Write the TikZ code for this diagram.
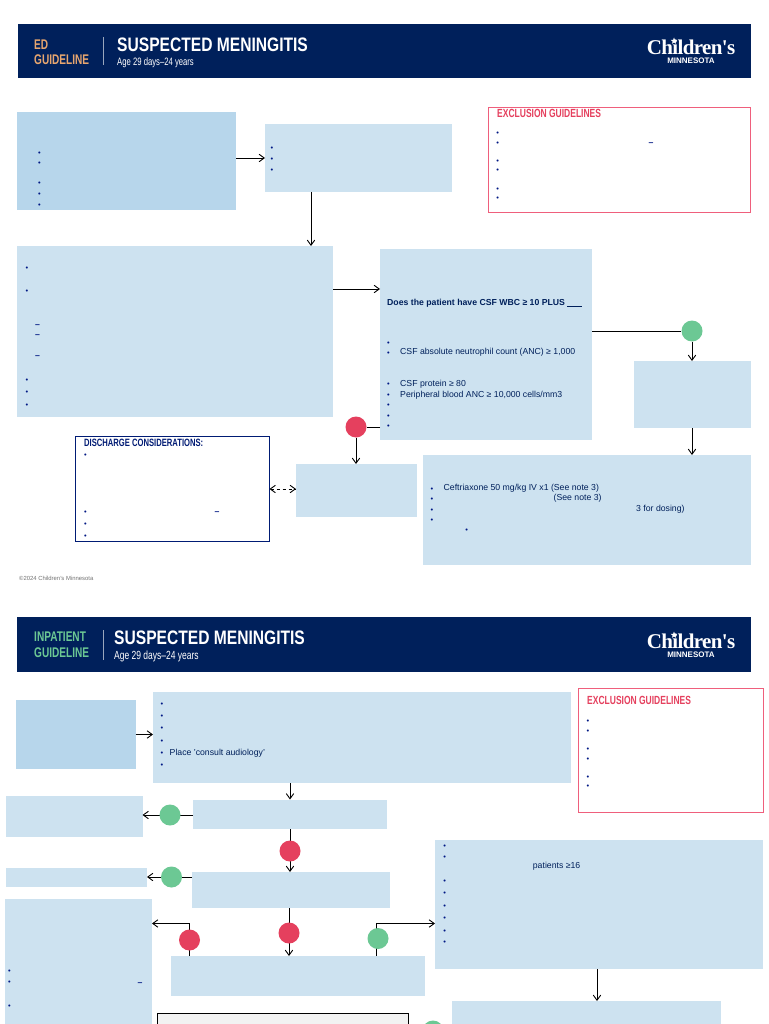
\documentclass[tikz,border=0pt]{standalone}
\usepackage{fontspec}
\setmainfont{Liberation Sans}
\newfontfamily\narrowfont[FakeStretch=0.72]{Liberation Sans}
\newfontfamily\titlefont[FakeStretch=0.8]{Liberation Sans}
\newfontfamily\logofont[LetterSpace=-3]{Liberation Serif}
\usetikzlibrary{positioning,arrows.meta,calc,shapes,shapes.geometric}
\definecolor{navy}{HTML}{00205B}
\definecolor{paleblue}{HTML}{CDE2F0}
\definecolor{midblue}{HTML}{B7D6EB}
\definecolor{redmark}{HTML}{E5405E}
\definecolor{greenmark}{HTML}{6CC894}
\definecolor{redline}{HTML}{EF5F7C}
\definecolor{edorange}{HTML}{E8A66F}
\definecolor{lightgray}{HTML}{F2F2F2}

\begin{document}
\begin{tikzpicture}[
    x=1pt, y=-1pt,
    banner/.style={draw=none, fill=navy, inner sep=0, outer sep=0},
    block/.style={draw=none, fill=paleblue, inner sep=0, outer sep=0},
    startblock/.style={block, fill=midblue},
    redbox/.style={draw=redline, line width=1.2pt, fill=white, inner sep=0, outer sep=0},
    navybox/.style={draw=navy!85!blue, line width=1pt, fill=white, inner sep=0, outer sep=0},
    redmk/.style={circle, fill=redmark, minimum size=21pt, inner sep=0},
    greenmk/.style={circle, fill=greenmark, minimum size=21pt, inner sep=0},
    arrow/.style={-{Straight Barb[length=1.8mm,width=2.6mm]}, line width=0.9pt},
    dblarrow/.style={{Straight Barb[length=1.8mm,width=2.6mm]}-{Straight Barb[length=1.8mm,width=2.6mm]}, line width=0.9pt, dash pattern=on 3pt off 3pt},
    plainline/.style={line width=0.9pt},
    note/.style={anchor=west, inner sep=0, yshift=-0.6pt, text=navy, font=\fontsize{8.7}{10}\selectfont},
    dotitem/.style={inner sep=0, yshift=-1.5pt, text=navy!75!blue, font=\fontsize{7.5}{8}\selectfont},
    dashitem/.style={inner sep=0, yshift=-1.8pt, text=navy!75!blue, font=\bfseries\fontsize{8.7}{10}\selectfont},
    redtitle/.style={anchor=west, inner sep=0, text=redmark, font=\narrowfont\bfseries\fontsize{11.8}{12}\selectfont},
    headtitle/.style={anchor=west, inner sep=0, text=white, font=\titlefont\bfseries\fontsize{19.5}{20}\selectfont},
    headage/.style={anchor=west, inner sep=0, text=white, font=\narrowfont\fontsize{10.7}{12}\selectfont},
    logotext/.style={inner sep=0, text=white, font=\logofont\bfseries\fontsize{21}{22}\selectfont},
    logostar/.style={star, star points=5, star point ratio=2.4, fill=white, inner sep=0, minimum size=7pt},
    logosub/.style={inner sep=0, text=white, font=\bfseries\fontsize{8}{9}\selectfont}
]
\path[use as bounding box, clip] (0,0) rectangle (768,1024);
\fill[white] (0,0) rectangle (768,1024);

\node[banner, minimum width=733pt, minimum height=54pt] (edbar) at (384.5,51) {};
\node[anchor=west, inner sep=0, text=edorange, font=\narrowfont\bfseries\fontsize{14}{15}\selectfont] (edone) at (34,44.5) {ED};
\node[anchor=west, inner sep=0, text=edorange, font=\narrowfont\bfseries\fontsize{14}{15}\selectfont] (edtwo) at (34,59.5) {GUIDELINE};
\coordinate (edsepa) at (103.5,37);
\coordinate (edsepb) at (103.5,65);
\draw[white!60!navy, line width=0.6pt] (edsepa) -- (edsepb);
\node[headtitle] (edtitle) at (117,45) {SUSPECTED MENINGITIS};
\node[headage] (edage) at (117,62.5) {Age 29 days–24 years};
\node[logotext] (edlogo) at (691,47) {Children's};
\node[logostar] (edstar) at (674,41) {};
\node[logosub] (edsub) at (691,61) {MINNESOTA};

\node[startblock, minimum width=219pt, minimum height=98pt] (present) at (126.5,161) {};
\node[block, minimum width=187pt, minimum height=68pt] (workup) at (358.5,158) {};
\node[redbox, minimum width=262pt, minimum height=105pt] (exclude) at (619.5,160) {};
\node[redtitle] (excludetitle) at (497,113) {EXCLUSION GUIDELINES};
\node[block, minimum width=316pt, minimum height=171pt] (manage) at (175,331.5) {};
\node[block, minimum width=212pt, minimum height=191pt] (csf) at (486,344.5) {};
\node[block, minimum width=117pt, minimum height=67pt] (admit) at (692.5,394.5) {};
\node[block, minimum width=328pt, minimum height=110pt] (treat) at (587,510) {};
\node[block, minimum width=121pt, minimum height=53pt] (home) at (356.5,490.5) {};
\node[navybox, minimum width=194pt, minimum height=105pt] (discharge) at (172.5,489) {};

\node[greenmk] (edyes) at (692,331) {};
\node[redmk] (edno) at (356,427) {};

\draw[arrow] (present.east |- workup) -- (workup.west);
\draw[arrow] (311,192) -- (311,246);
\draw[arrow] (manage.east |- 0,289) -- (csf.west |- 0,289);
\draw[plainline] (csf.east |- edyes) -- (edyes);
\draw[arrow] (edyes) -- (admit.north -| edyes);
\draw[arrow] (admit.south -| edyes) -- (treat.north -| edyes);
\draw[plainline] (csf.west |- edno) -- (edno);
\draw[arrow] (edno) -- (home.north -| edno);
\draw[dblarrow] (discharge.east) -- (home.west |- discharge);

\foreach \y [count=\i] in {152,162,182.5,193,204} \node[dotitem] (presentdot\i) at (39.5,\y) {•};
\foreach \y [count=\i] in {147.5,158.5,169} \node[dotitem] (workupdot\i) at (272,\y) {•};
\foreach \y [count=\i] in {132.5,142,160,169,188,197} \node[dotitem] (excludedot\i) at (497.7,\y) {•};
\node[dashitem] (excludedash) at (651,142) {–};
\foreach \y [count=\i] in {267,290,379,391,404} \node[dotitem] (managedot\i) at (27,\y) {•};
\foreach \y [count=\i] in {324,334.5,355.5} \node[dashitem] (managedash\i) at (37.5,\y) {–};
\foreach \y [count=\i] in {342,352,383.5,394.5,404.5,415.5,425.5} \node[dotitem] (csfdot\i) at (388.5,\y) {•};
\node[note, font=\bfseries\fontsize{8.7}{10}\selectfont] (csfask) at (387,302.5) {Does the patient have CSF WBC ≥ 10 PLUS \underline{\hspace{15pt}}};
\node[note] (csfanc) at (400,352) {CSF absolute neutrophil count (ANC) ≥ 1,000};
\node[note] (csfprot) at (400,383.5) {CSF protein ≥ 80};
\node[note] (csfblood) at (400,394.5) {Peripheral blood ANC ≥ 10,000 cells/mm3};
\foreach \y [count=\i] in {488,498,509,519} \node[dotitem] (treatdot\i) at (432,\y) {•};
\node[dotitem] (treatsub) at (466.7,528.8) {•};
\node[note] (treatone) at (443.5,488) {Ceftriaxone 50 mg/kg IV x1 (See note 3)};
\node[note] (treattwo) at (553.5,498) {(See note 3)};
\node[note] (treatthree) at (636,509) {3 for dosing)};
\node[anchor=west, inner sep=0, text=navy!85!blue, font=\narrowfont\bfseries\fontsize{10.6}{11}\selectfont] (dischargetitle) at (84,443) {DISCHARGE CONSIDERATIONS:};
\foreach \y [count=\i] in {454,511,523,535} \node[dotitem] (dischargedot\i) at (85.5,\y) {•};
\node[dashitem] (dischargedash) at (217,511) {–};
\node[anchor=west, inner sep=0, text=black!55, font=\fontsize{5.9}{6}\selectfont] (copyright) at (19,578) {©2024 Children's Minnesota};

\node[banner, minimum width=734pt, minimum height=55pt] (ipbar) at (384,644.5) {};
\node[anchor=west, inner sep=0, text=greenmark, font=\narrowfont\bfseries\fontsize{14}{15}\selectfont] (ipone) at (34,637) {INPATIENT};
\node[anchor=west, inner sep=0, text=greenmark, font=\narrowfont\bfseries\fontsize{14}{15}\selectfont] (iptwo) at (34,652.5) {GUIDELINE};
\coordinate (ipsepa) at (103,630);
\coordinate (ipsepb) at (103,660);
\draw[white!60!navy, line width=0.6pt] (ipsepa) -- (ipsepb);
\node[headtitle] (iptitle) at (114,638) {SUSPECTED MENINGITIS};
\node[headage, font=\narrowfont\fontsize{11.8}{13}\selectfont] (ipage) at (114,656) {Age 29 days–24 years};
\node[logotext] (iplogo) at (691,641) {Children's};
\node[logostar] (ipstar) at (674,635) {};
\node[logosub] (ipsub) at (691,655) {MINNESOTA};

\node[startblock, minimum width=119.5pt, minimum height=69pt] (arrive) at (75.75,734.5) {};
\node[block, minimum width=418pt, minimum height=91pt] (orders) at (362,737.5) {};
\node[redbox, minimum width=185pt, minimum height=124pt] (excludeip) at (671,750.5) {};
\node[redtitle] (excludeiptitle) at (587,700.5) {EXCLUSION GUIDELINES};
\node[block, minimum width=193.5pt, minimum height=29.5pt] (askone) at (289.75,814.25) {};
\node[block, minimum width=136.5pt, minimum height=41.5pt] (boxa) at (74.25,816.25) {};
\node[block, minimum width=197.5pt, minimum height=36pt] (asktwo) at (290.75,890) {};
\node[block, minimum width=141pt, minimum height=18.5pt] (boxb) at (76.5,877.25) {};
\node[block, minimum width=147pt, minimum height=140pt] (boxc) at (78.5,969) {};
\node[block, minimum width=254pt, minimum height=40pt] (askthree) at (298,976) {};
\node[block, minimum width=328pt, minimum height=129pt] (check) at (599,904.5) {};
\node[block, minimum width=269pt, minimum height=40pt] (last) at (586.5,1021) {};
\node[draw=black, line width=0.9pt, fill=lightgray, inner sep=0, outer sep=0, minimum width=251pt, minimum height=30pt] (graybox) at (283,1028) {};

\coordinate (turnred) at (189.5,923.5);
\coordinate (turngreen) at (376,923.5);
\draw[arrow] (arrive.east) -- (orders.west |- arrive);
\draw[arrow] (290,783) -- (290,799.5);
\draw[arrow] (askone.west |- 0,815) -- (boxa.east |- 0,815);
\draw[arrow] (290,829) -- (290,872);
\draw[arrow] (asktwo.west |- 0,877) -- (boxb.east |- 0,877);
\draw[arrow] (289,908) -- (289,956);
\draw[arrow] (askthree.north -| turnred) -- (turnred) -- (boxc.east |- turnred);
\draw[arrow] (askthree.north -| turngreen) -- (turngreen) -- (check.west |- turngreen);
\draw[arrow] (597,969) -- (597,1001);

\node[greenmk] (ipyesone) at (170,815) {};
\node[redmk] (ipnoone) at (290,851) {};
\node[greenmk] (ipyestwo) at (171.5,877) {};
\node[redmk] (ipnotwo) at (289,933) {};
\node[redmk] (ipnothree) at (189.5,940) {};
\node[greenmk] (ipyesthree) at (378,938.5) {};
\node[greenmk] (ipyesfour) at (433,1031) {};

\foreach \y [count=\i] in {703,715,727.5,740.5,752.5,764} \node[dotitem] (ordersdot\i) at (162,\y) {•};
\node[note] (orderstext) at (169.5,752.5) {Place 'consult audiology'};
\foreach \y [count=\i] in {720.5,730,748,758,776,785} \node[dotitem] (excludeipdot\i) at (588,\y) {•};
\foreach \y [count=\i] in {970.5,981.5,1005} \node[dotitem] (boxcdot\i) at (9.5,\y) {•};
\node[dashitem] (boxcdash) at (140,982) {–};
\foreach \y [count=\i] in {845,856,880,892.7,905.5,917.7,930,941} \node[dotitem] (checkdot\i) at (444.7,\y) {•};
\node[note] (checktext) at (532.7,866) {patients ≥16};
\end{tikzpicture}
\end{document}
